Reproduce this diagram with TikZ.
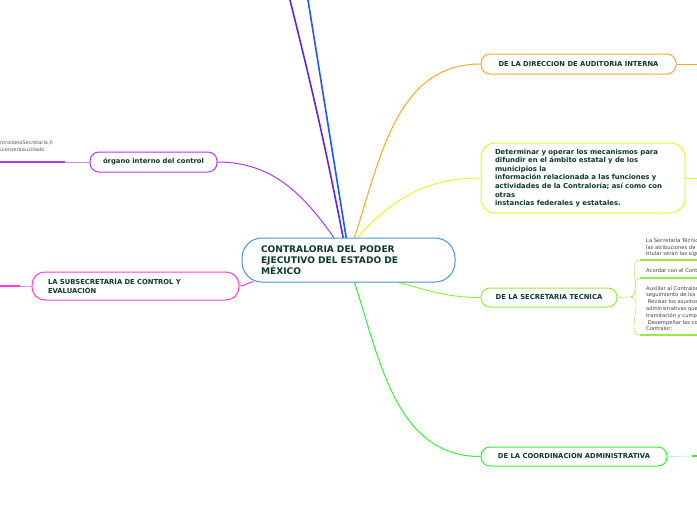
\documentclass[tikz,border=0pt]{standalone}
\usepackage{fontspec}
\setmainfont{DejaVu Sans}
\usetikzlibrary{positioning,backgrounds}

\definecolor{txtgreen}{RGB}{12,58,40}
\definecolor{hubblue}{RGB}{70,150,215}
\definecolor{auditorange}{RGB}{247,168,40}
\definecolor{difyellow}{RGB}{240,240,40}
\definecolor{tecgreen}{RGB}{150,235,60}
\definecolor{coordgreen}{RGB}{60,235,60}
\definecolor{organpurple}{RGB}{175,55,255}
\definecolor{submagenta}{RGB}{255,60,220}
\definecolor{topviolet}{RGB}{95,35,225}
\definecolor{topblue}{RGB}{30,85,255}

\begin{document}
\begin{tikzpicture}[x=1pt,y=-1pt,
  topic/.style={draw,rounded corners=9pt,line width=1pt,fill=white,
    text=txtgreen,font=\bfseries\fontsize{6.8}{8.6}\selectfont,inner sep=0pt},
  smalltext/.style={anchor=north west,inner sep=0pt,align=left,text=black!75,
    font=\fontsize{5.2}{6.8}\selectfont},
  branch/.style={line width=1pt}]
\useasboundingbox (0,0) rectangle (697,520);
\clip (0,0) rectangle (697,520);

% nodes
\node[topic,draw=hubblue,rounded corners=20pt,text width=175pt,inner xsep=19pt,
  minimum height=44pt,align=left,font=\bfseries\fontsize{9.1}{11}\selectfont]
  (hub) at (348.5,260) {CONTRALORIA DEL PODER\\EJECUTIVO DEL ESTADO DE\\MÉXICO};
\node[topic,draw=auditorange,minimum width=195pt,minimum height=20pt]
  (audit) at (578.5,64) {DE LA DIRECCION DE AUDITORIA INTERNA};
\node[topic,draw=difyellow,rounded corners=14pt,text width=176pt,inner xsep=14pt,
  minimum height=70pt,align=left,font=\bfseries\fontsize{6.9}{8.6}\selectfont]
  (difundir) at (583,178) {Determinar y operar los mecanismos para\\difundir en el ámbito estatal y de los\\municipios la\\información relacionada a las funciones y\\actividades de la Contraloría; así como con\\otras\\instancias federales y estatales.};
\node[topic,draw=tecgreen,minimum width=136pt,minimum height=19pt]
  (tecnica) at (549,297.5) {DE LA SECRETARIA TECNICA};
\node[topic,draw=coordgreen,minimum width=186pt,minimum height=19pt]
  (coord) at (574,456.5) {DE LA COORDINACION ADMINISTRATIVA};
\node[topic,draw=organpurple,minimum width=127pt,minimum height=20pt]
  (organo) at (153.5,162) {órgano interno del control};
\node[topic,draw=submagenta,rounded corners=13pt,text width=175pt,inner xsep=16pt,
  minimum height=28pt,align=left]
  (subsec) at (135.5,286) {LA SUBSECRETARÍA DE CONTROL Y\\EVALUACIÓN};

% connectors from the hub
\begin{pgfonlayer}{background}
\coordinate (violettop) at (290,0);
\coordinate (bluetop) at (308,0);
\draw[topviolet,line width=1.6pt] (hub.north) ++(-5,2) coordinate (h0) (h0) to[out=101,in=-76] (violettop);
\draw[topblue,line width=1.6pt] (hub.north) ++(-2,2) coordinate (h7) (h7) -- (bluetop);
\draw[branch,auditorange] (hub.north) ++(6,0) coordinate (h1) (h1) to[out=72,in=180] (audit.west);
\draw[branch,difyellow] (hub.north) ++(8,1) coordinate (h2) (h2) to[out=48,in=180] (difundir.west);
\draw[branch,tecgreen] (hub.south) ++(50,0) coordinate (h3) (h3) to[out=-15,in=180] (tecnica.west);
\draw[branch,coordgreen] (hub.south) ++(6,0) coordinate (h4) (h4) to[out=-72,in=180] (coord.west);
\draw[branch,organpurple] (hub.north) ++(-14,1) coordinate (h5) (h5) to[out=125,in=0] (organo.east);
\draw[branch,submagenta] (hub.south west) ++(12,-1) coordinate (h6) (h6) to[out=190,in=0] (subsec.east);
\end{pgfonlayer}

% right side ends
\coordinate (auditend) at (697,64);
\coordinate (difend) at (697,178);
\draw[auditorange] (audit.east) -- (auditend);
\draw[difyellow] (difundir.east) -- (difend);
\coordinate (coordmid) at (692,456);
\coordinate (coordend) at (697,456);
\draw[coordgreen!60] (coord.east) -- (coordmid);
\draw[coordgreen,line width=2pt] (coordmid) -- (coordend);

% secretaria tecnica sub-items
\coordinate (tecfork) at (630,297);
\coordinate (t1) at (640,260);
\coordinate (t2) at (640,278);
\coordinate (t3) at (640,335);
\coordinate (t1e) at (697,260);
\coordinate (t2e) at (697,278);
\coordinate (t3e) at (697,335);
\draw[tecgreen] (tecnica.east) -- (tecfork);
\draw[tecgreen] (tecfork) to[out=0,in=180] (t1);
\draw[tecgreen] (tecfork) to[out=0,in=180] (t2);
\draw[tecgreen] (tecfork) to[out=0,in=180] (t3);
\draw[tecgreen,line width=1.2pt] (t1) -- (t1e);
\draw[tecgreen,line width=1.2pt] (t2) -- (t2e);
\draw[tecgreen,line width=1.6pt] (t3) -- (t3e);
\node[smalltext] (tec1) at (646,238) {La Secretaría Técnica\\las atribuciones de\\titular serán las siguientes};
\node[smalltext] (tec2) at (646,268.5) {Acordar con el Contralor};
\node[smalltext] (tec3) at (646,286) {Auxiliar al Contralor\\seguimiento de los\\\ Revisar los asuntos\\administrativas que\\tramitación y cumplimiento\\\ Desempeñar las comisiones\\Contralor;};

% left side ends
\coordinate (organmid) at (65,162);
\coordinate (organend) at (0,162);
\draw[organpurple!60] (organo.west) -- (organmid);
\draw[organpurple,line width=2pt] (organmid) -- (organend);
\node[smalltext,text=black!65,font=\fontsize{5}{7}\selectfont] (organtxt) at (0,140.5) {ntroldelaSecretaría,h\\uienseráauxiliado};
\coordinate (submid) at (20,286);
\coordinate (subend) at (0,286);
\draw[submagenta!60] (subsec.west) -- (submid);
\draw[submagenta,line width=2pt] (submid) -- (subend);
\end{tikzpicture}
\end{document}
